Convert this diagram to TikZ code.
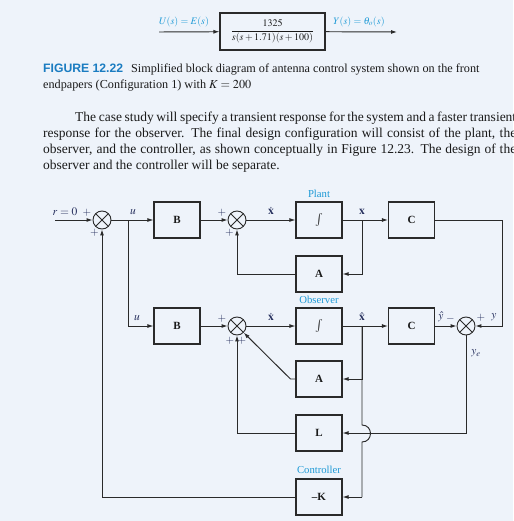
\documentclass[tikz,border=0pt]{standalone}
\usepackage{amsmath}
\usepackage{mathptmx}
\usepackage[no-math]{fontspec}
\setmainfont{Liberation Serif}
\newfontfamily\capsans{Liberation Sans}
\usetikzlibrary{arrows.meta}
\definecolor{bg}{HTML}{EEF3FA}
\definecolor{cyantxt}{HTML}{1E9AD6}
\definecolor{figblue}{HTML}{1A7CC1}
\definecolor{lbl}{HTML}{27305E}
\definecolor{ln}{HTML}{2A2A2A}
\definecolor{txt}{HTML}{1A1A1A}
\tikzset{
  blk/.style={draw=ln, line width=1.1pt, minimum width=46pt, minimum height=36pt, inner sep=0pt,
    font=\bfseries\fontsize{11}{12}\selectfont, text=txt},
  sumj/.style={circle, draw=ln, line width=0.9pt, minimum size=18pt, inner sep=0pt,
    path picture={\draw[ln, line width=0.9pt]
      (path picture bounding box.north west)--(path picture bounding box.south east)
      (path picture bounding box.north east)--(path picture bounding box.south west);}},
  conn/.style={draw=ln, line width=0.95pt},
  arr/.style={conn, -{Latex[length=6pt,width=4pt]}},
  lab/.style={text=lbl, font=\fontsize{11.5}{13}\selectfont, inner sep=0pt},
  sgn/.style={text=lbl, font=\fontsize{11}{12}\selectfont, inner sep=0pt},
  grp/.style={text=cyantxt, font=\fontsize{10.7}{12}\selectfont, inner sep=0pt},
  intg/.style={blk, font=\fontsize{13}{14}\selectfont},
}
\begin{document}
\begin{tikzpicture}[x=1pt,y=-1pt]
\useasboundingbox (0,0) rectangle (513,521);
\fill[bg] (0,0) rectangle (513,521);
\clip (0,0) rectangle (513,521);

% ---------- top transfer function ----------
\node[draw=ln, line width=1.1pt, minimum width=105pt, minimum height=37pt, inner sep=0pt,
  font=\fontsize{10}{11}\selectfont, text=txt] (G) at (272.5,31.5)
  {$\dfrac{1325}{s(s+1.71)(s+100)}$};
\coordinate (gin) at (159,32);
\coordinate (gout) at (397,32);
\draw[arr] (gin) -- (G);
\draw[arr] (G) -- (gout);
\node[text=cyantxt, font=\fontsize{10}{11}\selectfont, inner sep=0pt] (ul) at (184,22) {$U(s)=E(s)$};
\node[text=cyantxt, font=\fontsize{10}{11}\selectfont, inner sep=0pt] (yl) at (359,22) {$Y(s)=\theta_{o}(s)$};

% ---------- caption ----------
\node[anchor=base west, inner sep=0pt, text=figblue, font=\capsans\bfseries\fontsize{12.2}{15}\selectfont] (cap1) at (43,73) {FIGURE 12.22};
\node[anchor=base west, inner sep=0pt, text=txt, font=\fontsize{12.2}{15}\selectfont] (cap2) at (131,73) {Simplified block diagram of antenna control system shown on the front};
\node[anchor=base west, inner sep=0pt, text=txt, font=\fontsize{12.2}{15}\selectfont] (cap3) at (43,88.5) {endpapers (Configuration 1) with $K=200$};

% ---------- paragraph ----------
\node[anchor=base west, inner sep=0pt, text=txt, font=\fontsize{13.5}{16}\selectfont] (p1) at (75,122)
  {\makebox[441pt][s]{The case study will specify a transient response for the system and a faster transient}};
\node[anchor=base west, inner sep=0pt, text=txt, font=\fontsize{13.5}{16}\selectfont] (p2) at (43,138)
  {\makebox[473pt][s]{response for the observer. The final design configuration will consist of the plant, the}};
\node[anchor=base west, inner sep=0pt, text=txt, font=\fontsize{13.5}{16}\selectfont] (p3) at (43,154)
  {\makebox[473pt][s]{observer, and the controller, as shown conceptually in Figure 12.23. The design of the}};
\node[anchor=base west, inner sep=0pt, text=txt, font=\fontsize{13.5}{16}\selectfont] (p4) at (43,170)
  {observer and the controller will be separate.};

% ---------- block diagram: plant row ----------
\node[sumj] (s1) at (102,220) {};
\node[blk] (B1) at (177,220) {B};
\node[sumj] (s2) at (237,220) {};
\node[intg] (I1) at (319,220) {$\int$};
\node[blk] (C1) at (411.5,220) {C};
\node[blk] (A1) at (319,274) {A};
\node[grp] (plant) at (319,194) {Plant};

% ---------- observer row ----------
\node[sumj] (s3) at (237,326) {};
\node[blk] (B2) at (177,326) {B};
\node[intg] (I2) at (319,326) {$\int$};
\node[blk] (C2) at (411.5,326) {C};
\node[sumj] (s4) at (466,326) {};
\node[blk] (A2) at (319,379) {A};
\node[blk] (L) at (319,433) {L};
\node[blk] (K) at (319,497) {–K};
\node[grp] (obs) at (319,300) {Observer};
\node[grp] (ctl) at (319,470) {Controller};

% ---------- coordinates ----------
\coordinate (rin) at (55,220);
\coordinate (ub) at (128,220);
\coordinate (xb) at (362,220);
\coordinate (xhb) at (362,326);
\coordinate (rc) at (502,220);
\coordinate (h1) at (362,425);
\coordinate (h2) at (362,442);
\coordinate (kb) at (362,497);

% ---------- connectors ----------
\draw[arr] (rin) -- (s1);
\draw[conn] (s1) -- (ub);
\draw[arr] (ub) -- (B1);
\draw[arr] (B1) -- (s2);
\draw[arr] (s2) -- (I1);
\draw[conn] (I1) -- (xb);
\draw[arr] (xb) -- (C1);
\draw[arr] (xb) |- (A1);
\draw[arr] (A1) -| (s2);
\draw[conn] (C1) -- (rc);
\draw[arr] (rc) |- (s4);

\draw[arr] (ub) |- (B2);
\draw[arr] (B2) -- (s3);
\draw[arr] (s3) -- (I2);
\draw[conn] (I2) -- (xhb);
\draw[arr] (xhb) -- (C2);
\draw[arr] (C2) -- (s4);
\draw[arr] (xhb) |- (A2);
\draw[arr] (A2.west) -- ++(-5,0) -- (s3);
\draw[arr] (s4) |- (L);
\draw[arr] (L) -| (s3);
\draw[conn] (xhb) -- (h1) .. controls +(11.3,0) and +(11.3,0) .. (h2) -- (kb);
\draw[arr] (kb) -- (K);
\draw[arr] (K) -| (s1);

% ---------- labels ----------
\node[lab] (lr) at (65,212) {$r=0$};
\node[lab] (lu1) at (133,212) {$u$};
\node[lab] (lu2) at (137,318) {$u$};
\node[lab] (lxd1) at (271,211) {$\dot{\mathbf{x}}$};
\node[lab] (lx) at (362,212) {$\mathbf{x}$};
\node[lab] (lxd2) at (271,317) {$\dot{\mathbf{x}}$};
\node[lab] (lxh) at (362,317) {$\hat{\mathbf{x}}$};
\node[lab] (lyh) at (441,317) {$\hat{y}$};
\node[lab] (ly) at (494,317) {$y$};
\node[lab] (lye) at (476,353) {$y_e$};

\node[sgn] (p11) at (87,213) {$+$};
\node[sgn] (p12) at (94.5,233) {$+$};
\node[sgn] (p21) at (222,213) {$+$};
\node[sgn] (p22) at (229.5,233) {$+$};
\node[sgn] (p31) at (222,318.5) {$+$};
\node[sgn] (p32) at (230,341) {$+$};
\node[sgn] (p33) at (242,341) {$+$};
\node[sgn] (m41) at (450.5,318.5) {$-$};
\node[sgn] (p41) at (481,318) {$+$};
\end{tikzpicture}
\end{document}
